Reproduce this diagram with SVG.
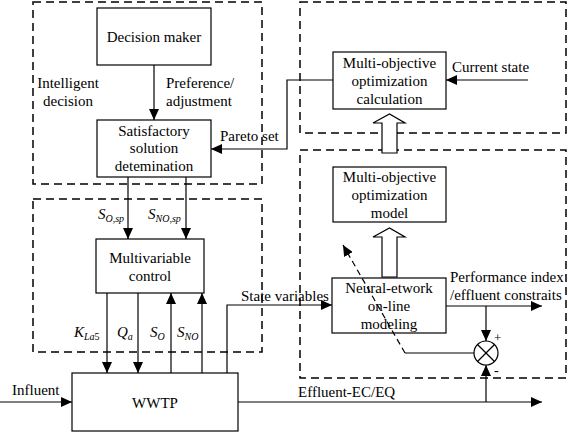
<svg xmlns="http://www.w3.org/2000/svg" width="568" height="433" viewBox="0 0 568 433" font-family="'Liberation Serif', 'DejaVu Serif', serif">
<defs>
<style>
text{font-family:'Liberation Serif','DejaVu Serif',serif;font-size:15px;fill:#000}
.c{text-anchor:middle}
.i{font-style:italic}
.sub{font-size:10px}
.box{fill:#fff;stroke:#000;stroke-width:1.2}
.dash{fill:none;stroke:#000;stroke-width:1.5;stroke-dasharray:8,5}
.ln{fill:none;stroke:#000;stroke-width:1.2}
.hol{fill:#fff;stroke:#000;stroke-width:1.2}
</style>
<marker id="ah" markerWidth="12" markerHeight="10" refX="11" refY="5" orient="auto" markerUnits="userSpaceOnUse">
<path d="M0,0 L11,5 L0,10 Z" fill="#000"/>
</marker>
</defs>
<rect width="568" height="433" fill="#fff"/>
<g id="regions">
<rect class="dash" x="33" y="2" width="229" height="182"/>
<rect class="dash" x="33" y="199" width="229" height="153"/>
<rect class="dash" x="300" y="2" width="266" height="131"/>
<rect class="dash" x="300" y="150" width="266" height="228"/>
</g>
<g id="decision-maker">
<rect class="box" x="97" y="8" width="114" height="57"/>
<text class="c" x="154" y="42">Decision maker</text>
</g>
<g id="satisfactory">
<rect class="box" x="97" y="120" width="114" height="57"/>
<text class="c" x="154" y="136">Satisfactory</text>
<text class="c" x="154" y="153">solution</text>
<text class="c" x="154" y="171">detemination</text>
</g>
<g id="multivariable-control">
<rect class="box" x="96" y="239" width="108" height="54"/>
<text class="c" x="150" y="263">Multivariable</text>
<text class="c" x="150" y="281">control</text>
</g>
<g id="wwtp">
<rect class="box" x="72" y="373" width="166" height="58"/>
<text class="c" x="155" y="408">WWTP</text>
</g>
<g id="mo-calculation">
<rect class="box" x="333" y="52" width="113" height="57"/>
<text class="c" x="389.5" y="68">Multi-objective</text>
<text class="c" x="389.5" y="86">optimization</text>
<text class="c" x="389.5" y="104">calculation</text>
</g>
<g id="mo-model">
<rect class="box" x="333" y="167" width="113" height="55"/>
<text class="c" x="389.5" y="182">Multi-objective</text>
<text class="c" x="389.5" y="200">optimization</text>
<text class="c" x="389.5" y="218">model</text>
</g>
<g id="neural-network">
<rect class="box" x="332" y="278" width="114" height="55"/>
<text class="c" x="389" y="293">Neural-etwork</text>
<text class="c" x="389" y="311">on-line</text>
<text class="c" x="389" y="329">modeling</text>
</g>
<g id="comparator">
<circle cx="486" cy="353" r="12" fill="#fff" stroke="#000" stroke-width="1.2"/>
<line class="ln" x1="477.5" y1="344.5" x2="494.5" y2="361.5"/>
<line class="ln" x1="494.5" y1="344.5" x2="477.5" y2="361.5"/>
<text x="494" y="342" style="font-size:13px">+</text>
<text x="494" y="375" style="font-size:14px">-</text>
</g>
<g id="connectors">
<line class="ln" x1="154" y1="65" x2="154" y2="120" marker-end="url(#ah)"/>
<polyline class="ln" points="333,80 287,80 287,149 211,149" marker-end="url(#ah)"/>
<line class="ln" x1="528" y1="80" x2="446" y2="80" marker-end="url(#ah)"/>
<line class="ln" x1="128" y1="177" x2="128" y2="239" marker-end="url(#ah)"/>
<line class="ln" x1="186" y1="177" x2="186" y2="239" marker-end="url(#ah)"/>
<line class="ln" x1="107" y1="293" x2="107" y2="373" marker-end="url(#ah)"/>
<line class="ln" x1="138" y1="293" x2="138" y2="373" marker-end="url(#ah)"/>
<line class="ln" x1="171" y1="373" x2="171" y2="293" marker-end="url(#ah)"/>
<line class="ln" x1="202" y1="373" x2="202" y2="293" marker-end="url(#ah)"/>
<polyline class="ln" points="227,373 227,305 332,305" marker-end="url(#ah)"/>
<line class="ln" x1="0" y1="402" x2="72" y2="402" marker-end="url(#ah)"/>
<line class="ln" x1="238" y1="402" x2="542" y2="402" marker-end="url(#ah)"/>
<line class="ln" x1="446" y1="306" x2="542" y2="306" marker-end="url(#ah)"/>
<line class="ln" x1="486" y1="306" x2="486" y2="341" marker-end="url(#ah)"/>
<line class="ln" x1="486" y1="402" x2="486" y2="365" marker-end="url(#ah)"/>
<polyline class="ln" points="474,353 405,353"/>
<line class="ln" x1="405" y1="353" x2="343" y2="245" stroke-dasharray="6,4" marker-end="url(#ah)"/>
<path class="hol" d="M382,153 L382,123 L373,123 L389.5,114 L405,123 L397,123 L397,153 Z"/>
<path class="hol" d="M382,277 L382,237 L373,237 L389.5,228 L405,237 L397,237 L397,277 Z"/>
</g>
<g id="labels">
<text class="c" x="68" y="88">Intelligent</text>
<text class="c" x="68" y="106">decision</text>
<text x="166" y="88">Preference/</text>
<text x="166" y="106">adjustment</text>
<text x="220" y="141">Pareto set</text>
<text x="452" y="72">Current state</text>
<text x="241" y="301">State variables</text>
<text x="450" y="282">Performance index</text>
<text x="450" y="300">/effluent constraits</text>
<text x="298" y="397">Effluent-EC/EQ</text>
<text x="12" y="395">Influent</text>
<text x="98" y="219" class="i">S<tspan class="sub" dy="3">O,sp</tspan></text>
<text x="148" y="219" class="i">S<tspan class="sub" dy="3">NO,sp</tspan></text>
<text x="74" y="337" class="i">K<tspan class="sub" dy="3">La</tspan><tspan class="sub" style="font-style:normal">5</tspan></text>
<text x="117" y="337" class="i">Q<tspan class="sub" dy="3">a</tspan></text>
<text x="150" y="337" class="i">S<tspan class="sub" dy="3">O</tspan></text>
<text x="177" y="337" class="i">S<tspan class="sub" dy="3">NO</tspan></text>
</g>
</svg>
